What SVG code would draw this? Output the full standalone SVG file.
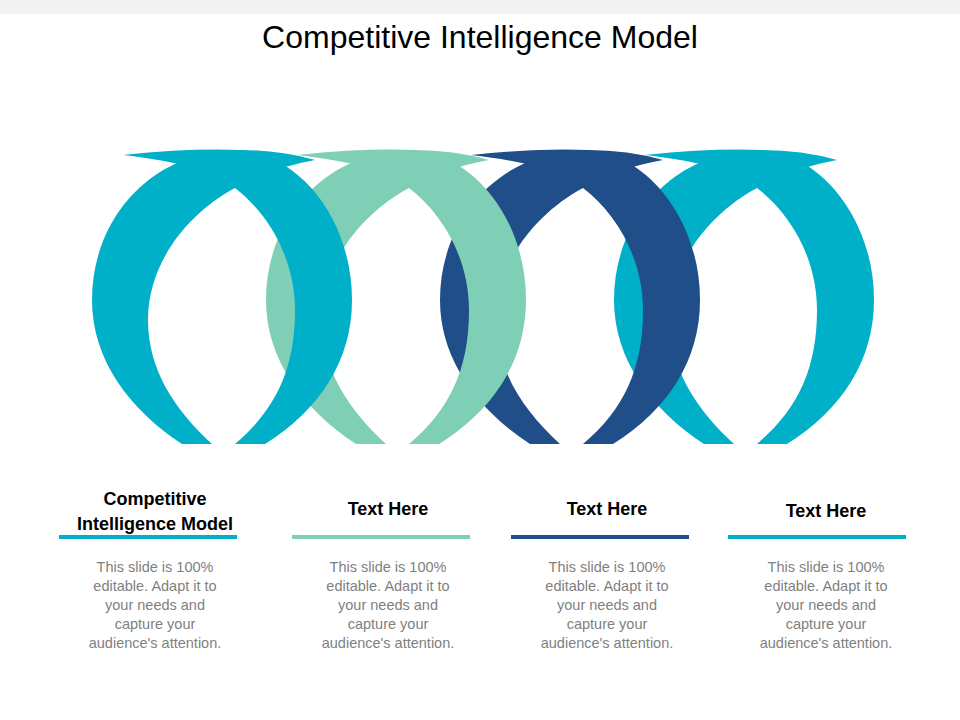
<svg xmlns="http://www.w3.org/2000/svg" width="960" height="720" viewBox="0 0 960 720">
<style>
.t{font-family:"Liberation Sans",Arial,sans-serif;text-anchor:middle}
.h{font-size:18px;font-weight:bold;fill:#000}
.b{font-size:14.5px;fill:#7f7f7f}
</style>
<defs>
<g id="ring">
<path d="M212,444 C175,410 148,370 148,320 C148,265 185,215 235,188 Q270,168 315,160 Q280,150 240,150 C150,150 92,220 92,300 C92,360 130,410 182,444 Z"/>
<path d="M235,444 C275,410 295,370 295,310 C295,260 270,215 235,188 Q210,165 123,155 Q190,148 240,150 C300,155 352,220 352,300 C352,360 320,410 265,444 Z"/>
</g>
</defs>
<rect x="0" y="0" width="960" height="14" fill="#f2f2f2"/>
<text class="t" x="480" y="48" font-size="32">Competitive Intelligence Model</text>
<g id="ring4"><use href="#ring" x="522" fill="#00b0c9"/></g>
<g id="ring3"><use href="#ring" x="348" fill="#1f4e89"/></g>
<g id="ring2"><use href="#ring" x="174" fill="#7fcfb7"/></g>
<g id="ring1"><use href="#ring" x="0" fill="#00b0c9"/></g>
<g id="col1">
<text class="t h" x="155" y="505">Competitive</text>
<text class="t h" x="155" y="530">Intelligence Model</text>
<rect x="59" y="535" width="178" height="4" fill="#00b0c9"/>
<text class="t b"><tspan x="155" y="572">This slide is 100%</tspan><tspan x="155" y="591">editable. Adapt it to</tspan><tspan x="155" y="610">your needs and</tspan><tspan x="155" y="629">capture your</tspan><tspan x="155" y="648">audience's attention.</tspan></text>
</g>
<g id="col2">
<text class="t h" x="388" y="515">Text Here</text>
<rect x="292" y="535" width="178" height="4" fill="#7fcfb7"/>
<text class="t b"><tspan x="388" y="572">This slide is 100%</tspan><tspan x="388" y="591">editable. Adapt it to</tspan><tspan x="388" y="610">your needs and</tspan><tspan x="388" y="629">capture your</tspan><tspan x="388" y="648">audience's attention.</tspan></text>
</g>
<g id="col3">
<text class="t h" x="607" y="515">Text Here</text>
<rect x="511" y="535" width="178" height="4" fill="#1f4e89"/>
<text class="t b"><tspan x="607" y="572">This slide is 100%</tspan><tspan x="607" y="591">editable. Adapt it to</tspan><tspan x="607" y="610">your needs and</tspan><tspan x="607" y="629">capture your</tspan><tspan x="607" y="648">audience's attention.</tspan></text>
</g>
<g id="col4">
<text class="t h" x="826" y="517">Text Here</text>
<rect x="728" y="535" width="178" height="4" fill="#00b0c9"/>
<text class="t b"><tspan x="826" y="572">This slide is 100%</tspan><tspan x="826" y="591">editable. Adapt it to</tspan><tspan x="826" y="610">your needs and</tspan><tspan x="826" y="629">capture your</tspan><tspan x="826" y="648">audience's attention.</tspan></text>
</g>
<g id="connectors"/>
</svg>
